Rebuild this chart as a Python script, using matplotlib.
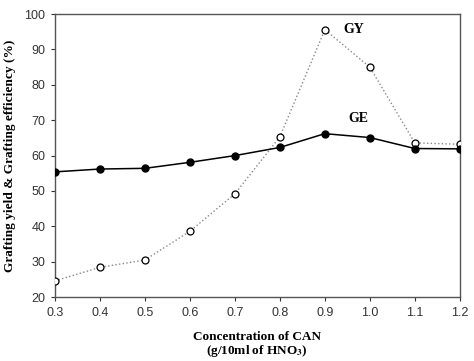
import matplotlib.pyplot as plt

plt.rcParams["mathtext.fontset"] = "stix"

# ---------- data ----------
can_conc = [0.3, 0.4, 0.5, 0.6, 0.7, 0.8, 0.9, 1.0, 1.1, 1.2]
grafting_yield = [24.6, 28.4, 30.5, 38.6, 49.2, 65.3, 95.6, 85.0, 63.6, 63.2]
grafting_eff = [55.4, 56.2, 56.4, 58.1, 60.0, 62.3, 66.2, 65.1, 62.0, 61.9]
x_ticks = [0.3, 0.4, 0.5, 0.6, 0.7, 0.8, 0.9, 1.0, 1.1, 1.2]
y_ticks = [20, 30, 40, 50, 60, 70, 80, 90, 100]

SERIF = ["Liberation Serif", "DejaVu Serif"]
SANS = ["Liberation Sans", "DejaVu Sans"]

fig = plt.figure(figsize=(4.74, 3.61), dpi=100)
ax = fig.add_axes([0.116, 0.177, 0.854, 0.784])

ax.plot(can_conc, grafting_yield, linestyle=":", color="#888888", linewidth=1.0,
        marker="o", markersize=5, markerfacecolor="white",
        markeredgecolor="black", markeredgewidth=0.9, zorder=3)
ax.plot(can_conc, grafting_eff, linestyle="-", color="black", linewidth=1.1,
        marker="o", markersize=5, markerfacecolor="black",
        markeredgecolor="black", zorder=4)

ax.text(0.965, 95.5, "GY", fontsize=10, fontweight="bold", family=SERIF,
        ha="center", va="center")
ax.text(0.975, 70.6, "GE", fontsize=10, fontweight="bold", family=SERIF,
        ha="center", va="center")

ax.set_xlim(0.3, 1.2)
ax.set_ylim(20, 100)
ax.set_xticks(x_ticks)
ax.set_xticklabels([f"{v:.1f}" for v in x_ticks], family=SANS)
ax.set_yticks(y_ticks)
ax.set_yticklabels([str(v) for v in y_ticks], family=SANS)
ax.tick_params(direction="out", length=3, width=0.8, labelsize=9,
               colors="#333333", pad=4)

for s in ax.spines.values():
    s.set_color("#555555")
    s.set_linewidth(1.0)

ax.set_xlabel("Concentration of CAN\n(g/10ml of HNO$_\\mathbf{3}$)", fontsize=9.5,
              fontweight="bold", family=SERIF, labelpad=9, linespacing=1.0)
ax.set_ylabel("Grafting yield & Grafting efficiency (%)", fontsize=9.6,
              fontweight="bold", family=SERIF, labelpad=6)

fig.savefig("out.png", dpi=100)
